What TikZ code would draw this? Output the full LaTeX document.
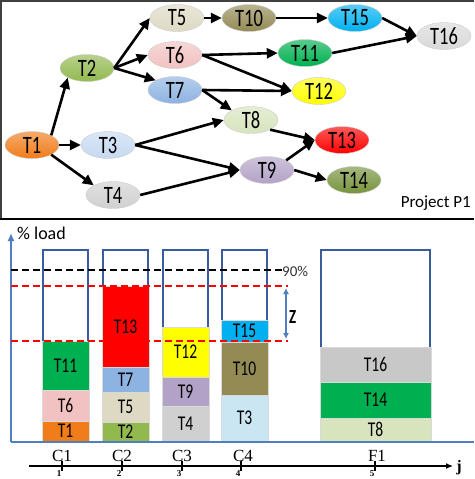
\documentclass[tikz,border=0pt]{standalone}
\usepackage{fontspec}
\setmainfont{Liberation Serif}
\newfontfamily\calib{Carlito}
\newfontfamily\calibn[FakeStretch=0.74]{Carlito}
\usetikzlibrary{shapes.geometric,arrows.meta}

\definecolor{cTa}{HTML}{F07C1A}
\definecolor{cTb}{HTML}{92B94E}
\definecolor{cTc}{HTML}{C6D9F1}
\definecolor{cTd}{HTML}{D0D0D0}
\definecolor{cTe}{HTML}{DDD9C3}
\definecolor{cTf}{HTML}{F2C1C1}
\definecolor{cTg}{HTML}{8DB3E2}
\definecolor{cTh}{HTML}{D7E4BD}
\definecolor{cTi}{HTML}{B3A2C7}
\definecolor{cTj}{HTML}{948A54}
\definecolor{cTk}{HTML}{00B050}
\definecolor{cTl}{HTML}{FFFF00}
\definecolor{cTm}{HTML}{FF0000}
\definecolor{cTn}{HTML}{77933C}
\definecolor{cTo}{HTML}{00B0F0}
\definecolor{cTp}{HTML}{D9D9D9}
\definecolor{barT3}{HTML}{C9E6F2}
\definecolor{barT16}{HTML}{C8C8C8}
\definecolor{cupblue}{HTML}{3A5C9C}
\definecolor{axisblue}{HTML}{4F7FBF}
\definecolor{frame}{HTML}{404040}

\begin{document}
\begin{tikzpicture}[x=1pt, y=-1pt,
	task/.style = {ellipse, draw=black!20, inner sep=0pt, minimum width=54pt, minimum height=27pt,
		top color=#1!65!white, bottom color=#1, font=\calibn\fontsize{25}{25}\selectfont},
	prec/.style = {line width=2.6pt, -{Triangle[length=11pt,width=10pt]}},
	cup/.style = {draw=cupblue, line width=2pt, minimum width=45pt, minimum height=192pt, inner sep=0pt},
	blk/.style = {draw=black!15, line width=0.6pt, minimum width=47pt, inner sep=0pt,
		font=\calibn\fontsize{21}{21}\selectfont},
	level/.style = {line width=2.6pt, dash pattern=on 7pt off 4pt},
	tick/.style = {line width=2pt},]
	\useasboundingbox (0,0) rectangle (474,479);

	% project graph
	\draw[frame, line width=2pt] (474,1) -- (1,1) -- (1,219);
	\draw[line width=2.5pt] (0,219) -- (474,219);

	\node[task=cTa] (T1) at (32,145) {T1};
	\node[task=cTb] (T2) at (87,68) {T2};
	\node[task=cTc] (T3) at (108,145) {T3};
	\node[task=cTd] (T4) at (113,195) {T4};
	\node[task=cTe] (T5) at (177,18) {T5};
	\node[task=cTf] (T6) at (175,55) {T6};
	\node[task=cTg] (T7) at (175,90) {T7};
	\node[task=cTh] (T8) at (251,120) {T8};
	\node[task=cTi] (T9) at (267,170) {T9};
	\node[task=cTj] (T10) at (249,18) {T10};
	\node[task=cTk] (T11) at (305,53) {T11};
	\node[task=cTl] (T12) at (319,91) {T12};
	\node[task=cTm] (T13) at (342,140) {T13};
	\node[task=cTn] (T14) at (354,180) {T14};
	\node[task=cTo] (T15) at (355,18) {T15};
	\node[task=cTp] (T16) at (444,36) {T16};

	\draw[prec] (T1.north east) -- (T2.south west);
	\draw[prec] (T1.east) -- (T3.west);
	\draw[prec] (T1.south east) -- (T4.north west);
	\draw[prec] (T2.east) -- (T5.west);
	\draw[prec] (T2.east) -- (T6.west);
	\draw[prec] (T2.east) -- (T7.north west);
	\draw[prec] (T5.east) -- (T10.west);
	\draw[prec] (T10.east) -- (T15.west);
	\draw[prec] (T15.east) -- (T16.west);
	\draw[prec] (T11.east) -- (T16.west);
	\draw[prec] (T6.east) -- (T11.west);
	\draw[prec] (T6.east) -- (T12.west);
	\draw[prec] (T7.east) -- (T12.west);
	\draw[prec] (T7.east) -- (T8.north west);
	\draw[prec] (T3.east) -- (T8.west);
	\draw[prec] (T3.east) -- (T9.west);
	\draw[prec] (T4.east) -- (T9.west);
	\draw[prec] (T8.south east) -- (T13.west);
	\draw[prec] (T9.north east) -- (T13.west);
	\draw[prec] (T9.east) -- (T14.west);

	\node[anchor=east, inner sep=0pt, font=\calib\fontsize{17}{17}\selectfont] (proj) at (471,203) {Project P1};

	% load chart
	\node[cup] (cupC1) at (65.5,346) {};
	\node[cup] (cupC2) at (125.5,346) {};
	\node[cup] (cupC3) at (185.5,346) {};
	\node[cup] (cupC4) at (244.5,346) {};
	\node[cup, minimum width=109pt] (cupF1) at (375.5,346) {};

	\node[blk, fill=cTa, minimum height=21pt] (bT1) at (65.5,431) {T1};
	\node[blk, fill=cTf, minimum height=31pt] (bT6) at (65.5,405.5) {T6};
	\node[blk, fill=cTk, minimum height=49pt] (bT11) at (65.5,365.5) {T11};

	\node[blk, fill=cTb, minimum height=20pt] (bT2) at (125.5,431.5) {T2};
	\node[blk, fill=cTe, minimum height=30pt] (bT5) at (125.5,407) {T5};
	\node[blk, fill=cTg, minimum height=25pt] (bT7) at (125.5,379.5) {T7};
	\node[blk, fill=cTm, minimum height=81pt] (bT13) at (125.5,326.5) {T13};

	\node[blk, fill=cTd, minimum height=36pt] (bT4) at (185.5,423.5) {T4};
	\node[blk, fill=cTi, minimum height=29pt] (bT9) at (185.5,391.5) {T9};
	\node[blk, fill=cTl, minimum height=50pt] (bT12) at (185.5,352) {T12};

	\node[blk, fill=barT3, minimum height=47pt] (bT3) at (244.5,418) {T3};
	\node[blk, fill=cTj, minimum height=53pt] (bT10) at (244.5,368.5) {T10};
	\node[blk, fill=cTo, minimum height=22pt] (bT15) at (244.5,331) {T15};

	\node[blk, fill=cTh, minimum height=24pt, minimum width=111pt] (bT8) at (375.5,429.5) {T8};
	\node[blk, fill=cTk, minimum height=36pt, minimum width=111pt] (bT14) at (375.5,400) {T14};
	\node[blk, fill=barT16, minimum height=35pt, minimum width=111pt] (bT16) at (375.5,364.5) {T16};

	\coordinate (o) at (11,442);
	\coordinate (ytop) at (11,233);
	\coordinate (xend) at (474,442);
	\draw[axisblue, line width=2.5pt] (o) -- (xend);
	\draw[axisblue, line width=2.5pt, -{Latex[length=8pt,width=7pt]}] (o) -- (ytop);
	\node[anchor=west, inner sep=0pt, font=\calib\fontsize{18}{18}\selectfont] (ylab) at (17,233) {\% load};

	\coordinate (cap) at (285,270);
	\coordinate (zt) at (288,286);
	\coordinate (zb) at (288,341);
	\draw[level, black] (11,270) -- (cap);
	\draw[level, red] (11,286) -- (zt);
	\draw[level, red] (11,341) -- (zb);
	\node[anchor=west, inner sep=0pt, text=black!80, font=\calib\fontsize{15}{15}\selectfont] (cap90) at (282,271) {90\%};
	\draw[axisblue, line width=1.8pt, {Latex[length=6pt,width=6pt]}-{Latex[length=6pt,width=6pt]}] (286,288) -- (286,339);
	\node[anchor=west, inner sep=0pt, font=\calibn\bfseries\fontsize{20}{20}\selectfont] (zlab) at (289,317) {Z};

	% machines axis
	\coordinate (js) at (29,466);
	\coordinate (je) at (453,466);
	\draw[line width=1.2pt, -{Latex[length=7pt,width=6pt]}] (js) -- (je);
	\node[font=\bfseries\fontsize{16}{16}\selectfont] (jlab) at (459,468) {j};
	\draw[tick] (62,461) -- (62,471);
	\draw[tick] (122,461) -- (122,471);
	\draw[tick] (182,461) -- (182,471);
	\draw[tick] (241,461) -- (241,471);
	\draw[tick] (375,461) -- (375,471);
	\node[font=\fontsize{17}{17}\selectfont] (lC1) at (62,456) {C1};
	\node[font=\fontsize{17}{17}\selectfont] (lC2) at (122,456) {C2};
	\node[font=\fontsize{17}{17}\selectfont] (lC3) at (182,456) {C3};
	\node[font=\fontsize{17}{17}\selectfont] (lC4) at (243,456) {C4};
	\node[font=\fontsize{17}{17}\selectfont] (lF1) at (377,456) {F1};
	\node[inner sep=0pt, font=\bfseries\fontsize{9}{9}\selectfont] (n1) at (59,473.5) {1};
	\node[inner sep=0pt, font=\bfseries\fontsize{9}{9}\selectfont] (n2) at (119,473.5) {2};
	\node[inner sep=0pt, font=\bfseries\fontsize{9}{9}\selectfont] (n3) at (179,473.5) {3};
	\node[inner sep=0pt, font=\bfseries\fontsize{9}{9}\selectfont] (n4) at (238,473.5) {4};
	\node[inner sep=0pt, font=\bfseries\fontsize{9}{9}\selectfont] (n5) at (372,473.5) {5};
\end{tikzpicture}
\end{document}
